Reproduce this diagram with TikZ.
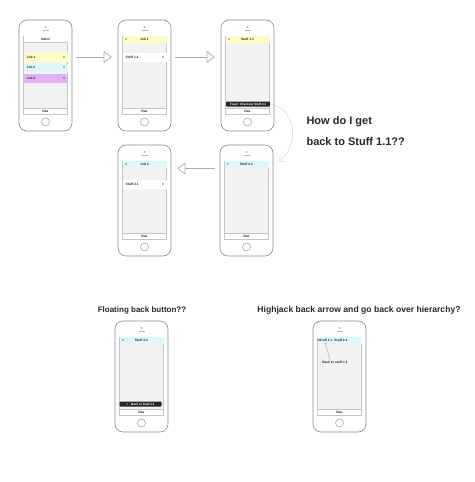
\documentclass[tikz,border=0pt]{standalone}
\usepackage{fontspec}
\setmainfont{Liberation Sans}
\usetikzlibrary{arrows.meta}

\definecolor{jobyellow}{HTML}{FFFCC4}
\definecolor{jobcyan}{HTML}{DDF8FB}
\definecolor{jobpurple}{HTML}{E2B2F3}
\definecolor{screengray}{HTML}{F2F2F2}
\definecolor{framegray}{HTML}{8A8A8A}
\definecolor{hintorange}{HTML}{F5CDB8}

\tikzset{
	phone/.style={draw=framegray, line width=0.6pt, rounded corners=8pt, minimum width=53pt, minimum height=111pt, inner sep=0pt, fill=white},
	screen/.style={draw=gray!45, line width=0.3pt, fill=screengray},
	small text/.style={font=\fontsize{3.3}{3.8}\selectfont\bfseries, inner sep=0.5pt, text=black!85},
	toast/.style={fill=black!85, text=white, rounded corners=0.8pt, minimum height=5pt, inner sep=0.5pt, font=\fontsize{3}{3.5}\selectfont\bfseries},
	flow/.style={draw=gray!65, line width=0.7pt, -{Triangle[open, length=8pt, width=12pt]}},
	headline/.style={font=\fontsize{8}{9.6}\selectfont\bfseries, text=black!85},
}

% phone frame: name, x, y of top left corner, screen content
\newcommand{\handset}[4]{%
	\begin{scope}[shift={(#2,#3)}]
		\node[phone] (#1) at (26.5,55.5) {};
		\fill[gray!80] (26.5,7) circle (0.8);
		\draw[gray!60, line width=0.4pt] (23.5,10.5) -- (29.5,10.5);
		\draw[screen] (4.5,16) rectangle (48.5,94);
		#4
		\draw[gray!45, line width=0.3pt, fill=white] (4.5,88) rectangle (48.5,94);
		\node[small text] at (26.5,91) {Nav};
		\draw[framegray, line width=0.4pt] (26.5,102) circle (4);
	\end{scope}}

% top bar with back chevron: colour, title
\newcommand{\topbar}[2]{%
	\fill[#1] (4.5,16) rectangle (48.5,22.5);
	\node[small text] at (26.5,19.3) {#2};
	\node[small text] at (8,19.3) {<};}

% list row: top y, colour, text
\newcommand{\listrow}[3]{%
	\fill[#2] (4.5,#1) rectangle (48.5,#1+8.5);
	\node[small text, anchor=west] at (7,#1+4.25) {#3};
	\node[small text] at (45,#1+4.25) {>};}

\begin{document}
\begin{tikzpicture}[x=1pt, y=-1pt]
	\useasboundingbox (0,0) rectangle (474,482);
	
	% Row 1
	\handset{p1}{19}{20}{%
		\fill[white] (4.5,16) rectangle (48.5,22.5);
		\draw[gray!40, line width=0.3pt] (4.5,22.5) -- (48.5,22.5);
		\node[small text] at (26.5,19.3) {Inbox};
		\listrow{33}{jobyellow}{Job 1}
		\listrow{43.5}{jobcyan}{Job 2}
		\listrow{54}{jobpurple}{Job 3}
	}
	\handset{p2}{118}{20}{%
		\topbar{jobyellow}{Job 1}
		\listrow{33}{white}{Stuff 1.1}
	}
	\handset{p3}{221}{20}{%
		\topbar{jobyellow}{Stuff 1.1}
		\node[toast, minimum width=44pt] (toast) at (27,84) {Toast: Checkout Stuff 2.1};
	}
	
	% Row 2
	\handset{p5}{118}{145}{%
		\topbar{jobcyan}{Job 2}
		\listrow{35}{white}{Stuff 2.1}
	}
	\handset{p4}{220}{145}{%
		\topbar{jobcyan}{Stuff 2.1}
	}
	
	% Row 3
	\handset{p6}{115}{321}{%
		\topbar{jobcyan}{Stuff 2.1}
		\node[toast, minimum width=42pt] (backbtn) at (25.5,83) {<\hspace{3pt}Back to Stuff 1.1};
	}
	\handset{p7}{313}{321}{%
		\fill[jobcyan] (4.5,16) rectangle (48.5,22.5);
		\node[small text] (oldtitle) at (12,19.3) {<Stuff 1.1};
		\node[small text] at (28,19.3) {Stuff 2.1};
		\node[small text] (backnote) at (22,41) {Back to stuff 1.1};
		\draw[gray!70, line width=0.4pt, -{Stealth[length=2.5pt]}] ([xshift=-5pt]backnote.north) -- (oldtitle.south);
	}
	
	% Flow arrows
	\draw[flow] ([xshift=4pt,yshift=18.5pt]p1.east) -- ([xshift=-6pt,yshift=18.5pt]p2.west);
	\draw[flow] ([xshift=4pt,yshift=18.5pt]p2.east) -- ([xshift=-6pt,yshift=18.5pt]p3.west);
	\draw[flow] ([xshift=-5pt,yshift=32pt]p4.west) -- ([xshift=6pt,yshift=32pt]p5.east);
	
	% Curved hint arrow
	\coordinate (hint) at (279,161);
	\draw[hintorange, line width=0.5pt, -{Straight Barb[length=4pt]}] (toast.east) .. controls (299,110) and (298,148) .. (hint);
	
	% Labels
	\node[font=\fontsize{11}{21}\selectfont\bfseries, text=black!85, align=left, anchor=west] (question) at (303,131.5) {How do I get\\back to Stuff 1.1??};
	\node[headline] (floatlabel) at (142,310) {Floating back button??};
	\node[headline, font=\fontsize{8.6}{10}\selectfont\bfseries] (hijacklabel) at (359,310) {Highjack back arrow and go back over hierarchy?};
\end{tikzpicture}
\end{document}
